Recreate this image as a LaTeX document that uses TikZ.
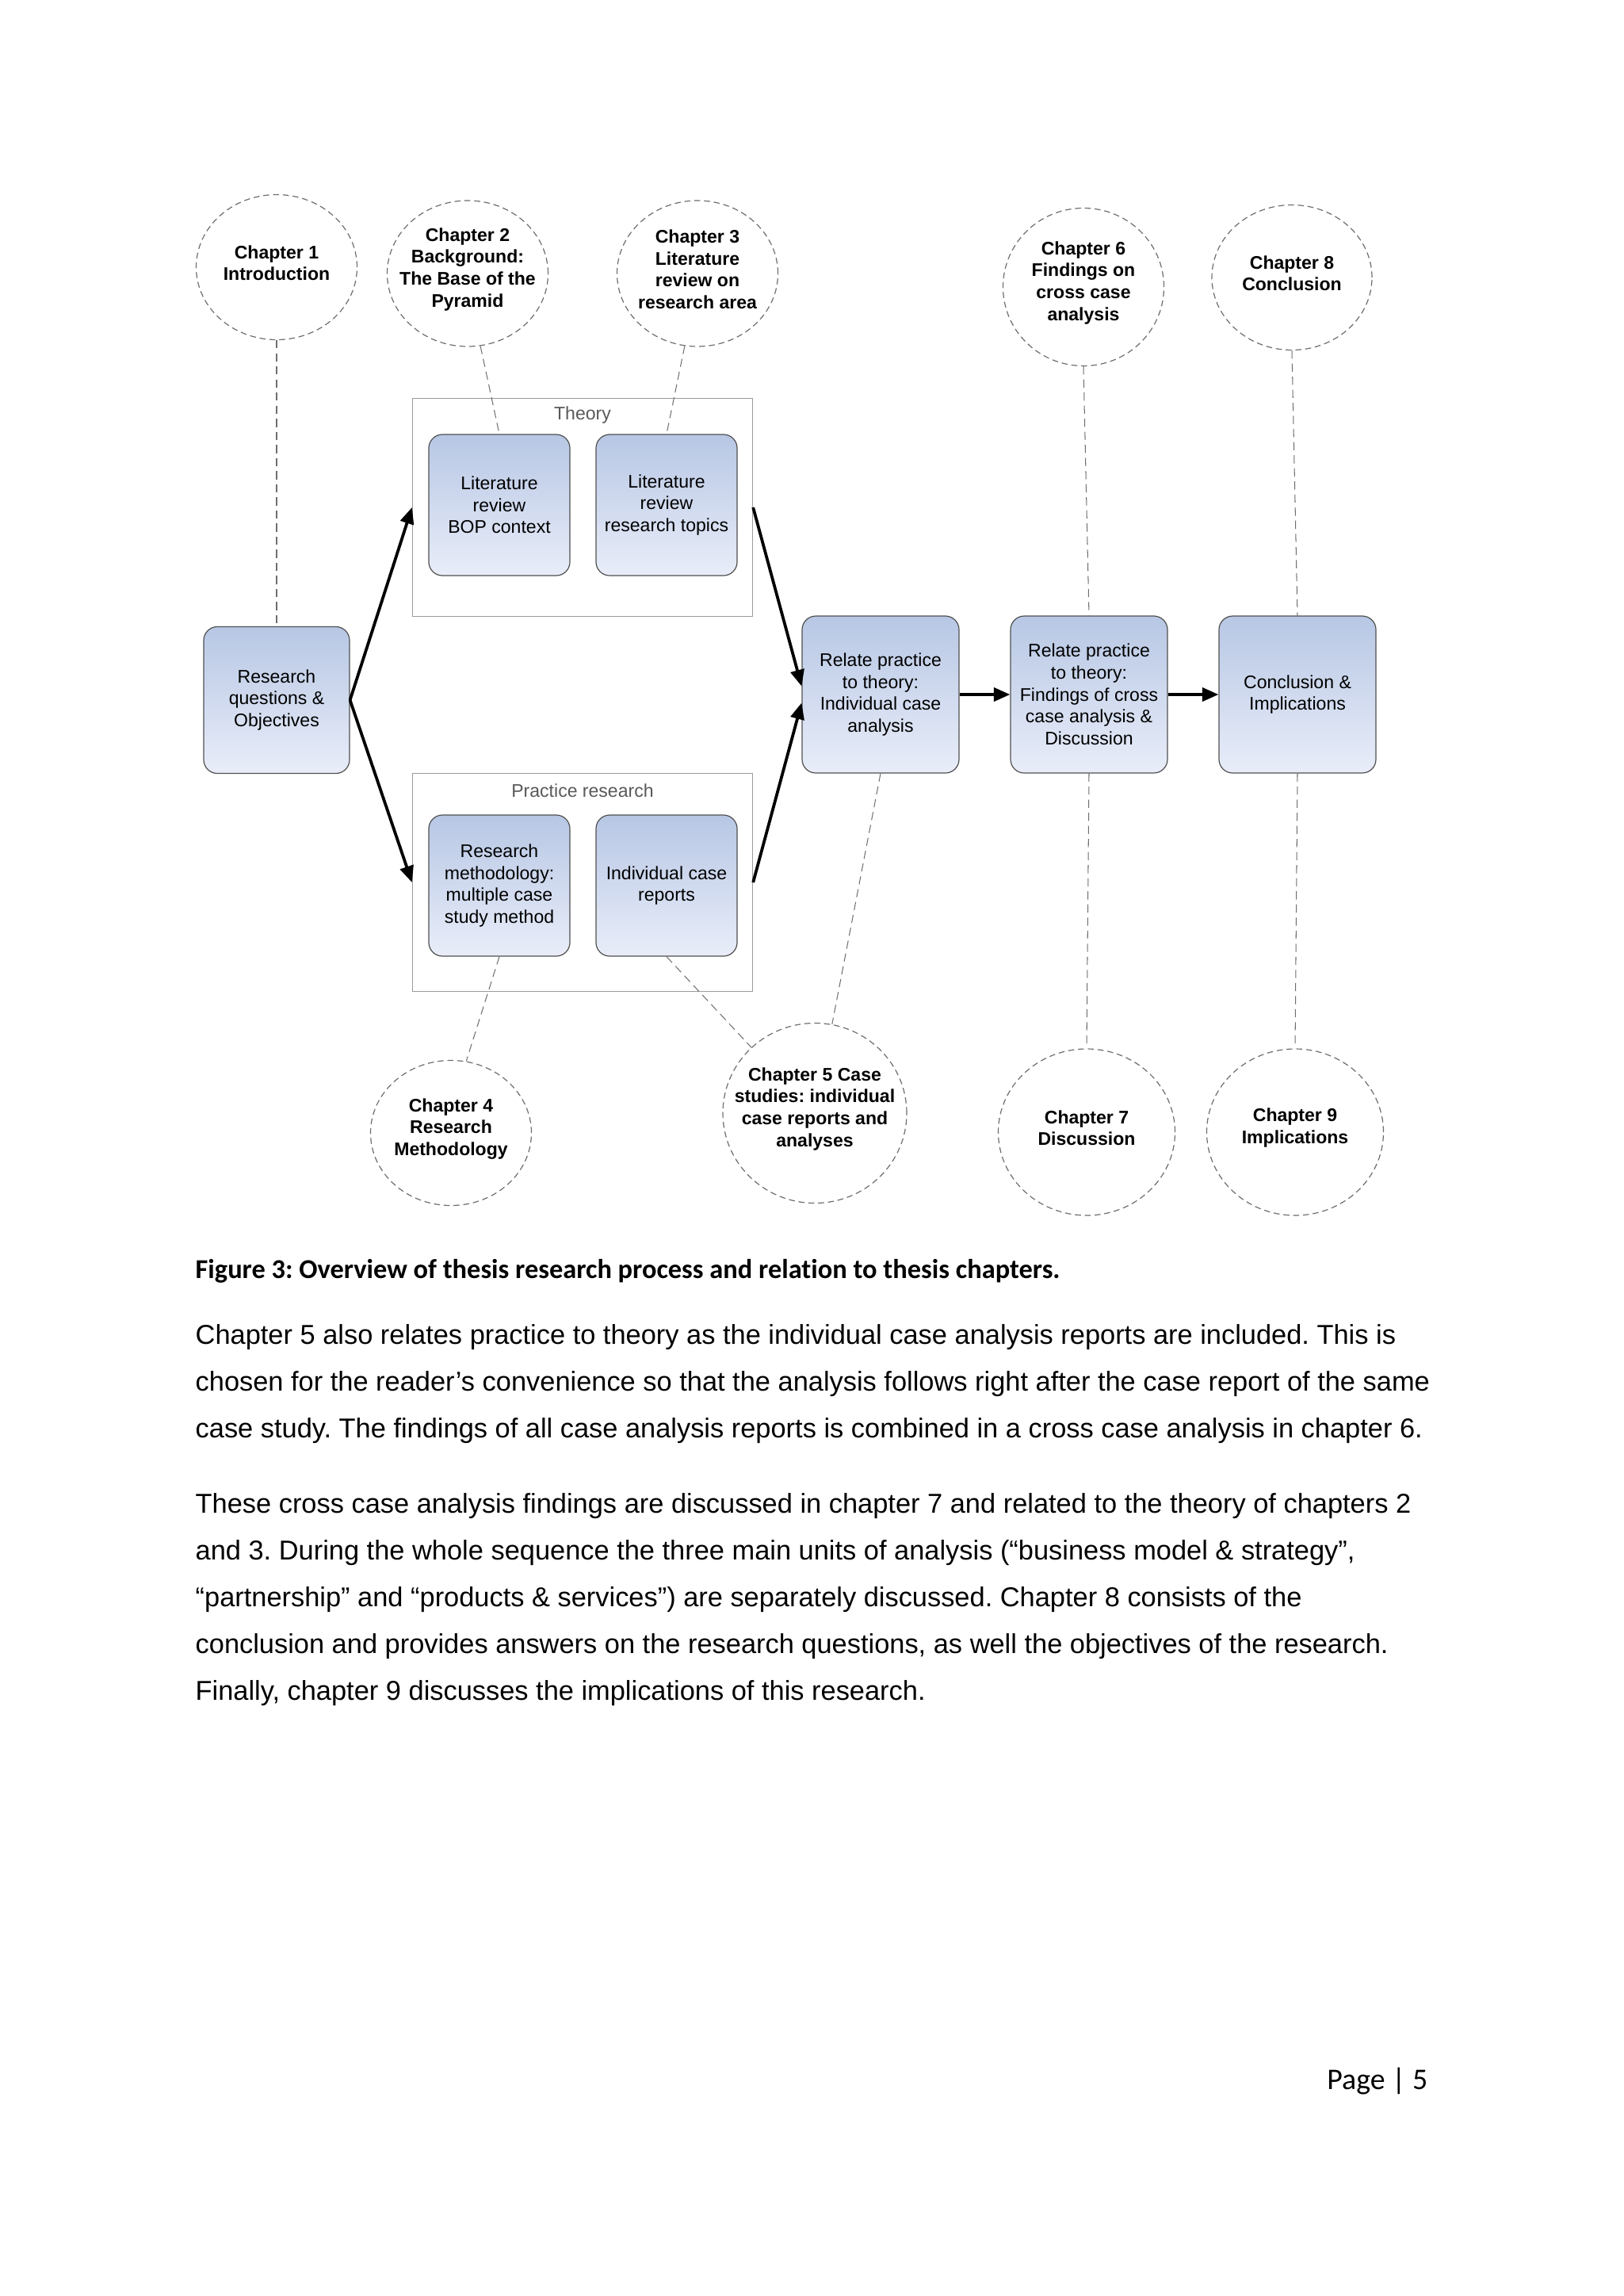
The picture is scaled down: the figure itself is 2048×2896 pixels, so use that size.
\documentclass[tikz,border=0pt]{standalone}
\usepackage{fontspec}
\setmainfont{Liberation Sans}
\newfontfamily\calibri[RawFeature=-liga]{Carlito}
\usetikzlibrary{arrows.meta,shapes.geometric}
\definecolor{boxtop}{RGB}{183,199,228}
\definecolor{boxbot}{RGB}{233,237,249}
\definecolor{boxline}{RGB}{80,80,80}
\definecolor{grpline}{RGB}{155,155,155}
\definecolor{dashline}{RGB}{110,110,110}
\def\PX{0.290664pt}
\frenchspacing
\begin{document}
\begin{tikzpicture}[x=0.290664pt,y=-0.290664pt,
  procbox/.style={draw=boxline, line width=0.35pt, rounded corners=5pt, top color=boxtop, bottom color=boxbot, align=center, inner sep=0pt, font=\fontsize{6.7}{8.05}\selectfont},
  grp/.style={draw=grpline, line width=0.4pt, fill=white, inner sep=0pt, minimum width=429*\PX, minimum height=275*\PX},
  grplab/.style={text=black!65, inner sep=0pt, font=\fontsize{6.7}{8}\selectfont},
  chap/.style={ellipse, draw=dashline, line width=0.35pt, dash pattern=on 2.2pt off 1.4pt, inner sep=0pt},
  chaptext/.style={align=center, inner sep=0pt, font=\bfseries\fontsize{6.7}{8.05}\selectfont, yshift=1.5pt},
  link/.style={draw=dashline, line width=0.3pt, dash pattern=on 3pt off 1.8pt},
  flow/.style={line width=1.1pt, -{Triangle[length=6pt,width=5pt]}},
  body/.style={anchor=base west, inner sep=0pt, font=\fontsize{10}{12}\selectfont},
]
\fill[white] (0,0) rectangle (2048,2896);
\useasboundingbox (0,0) rectangle (2048,2896);

% chapter ellipses (top)
\node[chap, minimum width=203*\PX, minimum height=183*\PX] (c1) at (349,337) {};
\node[chaptext] (c1t) at (c1) {Chapter 1\\Introduction};
\node[chap, minimum width=203*\PX, minimum height=184*\PX] (c2) at (590,345) {};
\node[chaptext] (c2t) at (c2) {Chapter 2\\Background:\\The Base of the\\Pyramid};
\node[chap, minimum width=203*\PX, minimum height=184*\PX] (c3) at (880,345) {};
\node[chaptext] (c3t) at (c3) {Chapter 3\\Literature\\review on\\research area};
\node[chap, minimum width=203*\PX, minimum height=199*\PX] (c6) at (1367,362) {};
\node[chaptext] (c6t) at (c6) {Chapter 6\\Findings on\\cross case\\analysis};
\node[chap, minimum width=202*\PX, minimum height=183*\PX] (c8) at (1630,350) {};
\node[chaptext] (c8t) at (c8) {Chapter 8\\Conclusion};

% chapter ellipses (bottom)
\node[chap, minimum width=203*\PX, minimum height=183*\PX] (c4) at (569,1429) {};
\node[chaptext] (c4t) at (c4) {Chapter 4\\Research\\Methodology};
\node[chap, minimum width=232*\PX, minimum height=227*\PX] (c5) at (1028,1404) {};
\node[chaptext] (c5t) at (c5) {Chapter 5 Case\\studies: individual\\case reports and\\analyses};
\node[chap, minimum width=223*\PX, minimum height=210*\PX] (c7) at (1371,1428) {};
\node[chaptext] (c7t) at (c7) {Chapter 7\\Discussion};
\node[chap, minimum width=223*\PX, minimum height=210*\PX] (c9) at (1634,1428) {};
\node[chaptext] (c9t) at (c9) {Chapter 9\\Implications};

% groups
\node[grp] (thg) at (735,640) {};
\node[grplab] (thlab) at (735,524) {Theory};
\node[grp] (prg) at (735,1113) {};
\node[grplab] (prlab) at (735,997) {Practice research};

% process boxes
\node[procbox, minimum width=184*\PX, minimum height=185*\PX] (rq) at (349,883) {Research\\questions \&\\Objectives};
\node[procbox, minimum width=178*\PX, minimum height=178*\PX] (bop) at (630,637) {Literature\\review\\BOP context};
\node[procbox, minimum width=178*\PX, minimum height=178*\PX] (lit) at (841,637) {Literature\\review\\research topics};
\node[procbox, minimum width=178*\PX, minimum height=178*\PX] (meth) at (630,1117) {Research\\methodology:\\multiple case\\study method};
\node[procbox, minimum width=178*\PX, minimum height=178*\PX] (ind) at (841,1117) {Individual case\\reports};
\node[procbox, minimum width=198*\PX, minimum height=198*\PX] (rel1) at (1111,876) {Relate practice\\to theory:\\Individual case\\analysis};
\node[procbox, minimum width=198*\PX, minimum height=198*\PX] (rel2) at (1374,876) {Relate practice\\to theory:\\Findings of cross\\case analysis \&\\Discussion};
\node[procbox, minimum width=198*\PX, minimum height=198*\PX] (concl) at (1637,876) {Conclusion \&\\Implications};

% dashed links
\draw[link] (c1.south) -- (rq.north);
\draw[link] (c2.-80) -- (bop.north);
\draw[link] (c3.-100) -- (lit.north);
\draw[link] (c6.south) -- (rel2.north);
\draw[link] (c8.south) -- (concl.north);
\draw[link] (meth.south) -- (c4.78);
\draw[link] (ind.south) -- (c5.134);
\draw[link] (rel1.south) -- (c5.79);
\draw[link] (rel2.south) -- (c7.north);
\draw[link] (concl.south) -- (c9.north);

% flow arrows
\draw[flow] (rq.east) -- (thg.west);
\draw[flow] (rq.east) -- (prg.west);
\draw[flow] (thg.east) -- (rel1.174);
\draw[flow] (prg.east) -- (rel1.186);
\draw[flow] (rel1.east) -- (rel2.west);
\draw[flow] (rel2.east) -- (concl.west);

% caption and text
\node[anchor=base west, inner sep=0pt, font=\calibri\bfseries\fontsize{10}{12}\selectfont] (cap) at (246,1612) {Figure 3: Overview of thesis research process and relation to thesis chapters.};
\node[body] (l1) at (246,1695) {Chapter 5 also relates practice to theory as the individual case analysis reports are included. This is};
\node[body] (l2) at (246,1754) {chosen for the reader’s convenience so that the analysis follows right after the case report of the same};
\node[body] (l3) at (246,1813) {case study. The findings of all case analysis reports is combined in a cross case analysis in chapter 6.};
\node[body] (l4) at (246,1908) {These cross case analysis findings are discussed in chapter 7 and related to the theory of chapters 2};
\node[body] (l5) at (246,1967) {and 3. During the whole sequence the three main units of analysis (“business model \& strategy”,};
\node[body] (l6) at (246,2026) {“partnership” and “products \& services”) are separately discussed. Chapter 8 consists of the};
\node[body] (l7) at (246,2085) {conclusion and provides answers on the research questions, as well the objectives of the research.};
\node[body] (l8) at (246,2144) {Finally, chapter 9 discusses the implications of this research.};
\node[anchor=base east, inner sep=0pt, font=\calibri\fontsize{11}{13}\selectfont] (pg) at (1802,2635) {Page | 5};
\end{tikzpicture}
\end{document}
